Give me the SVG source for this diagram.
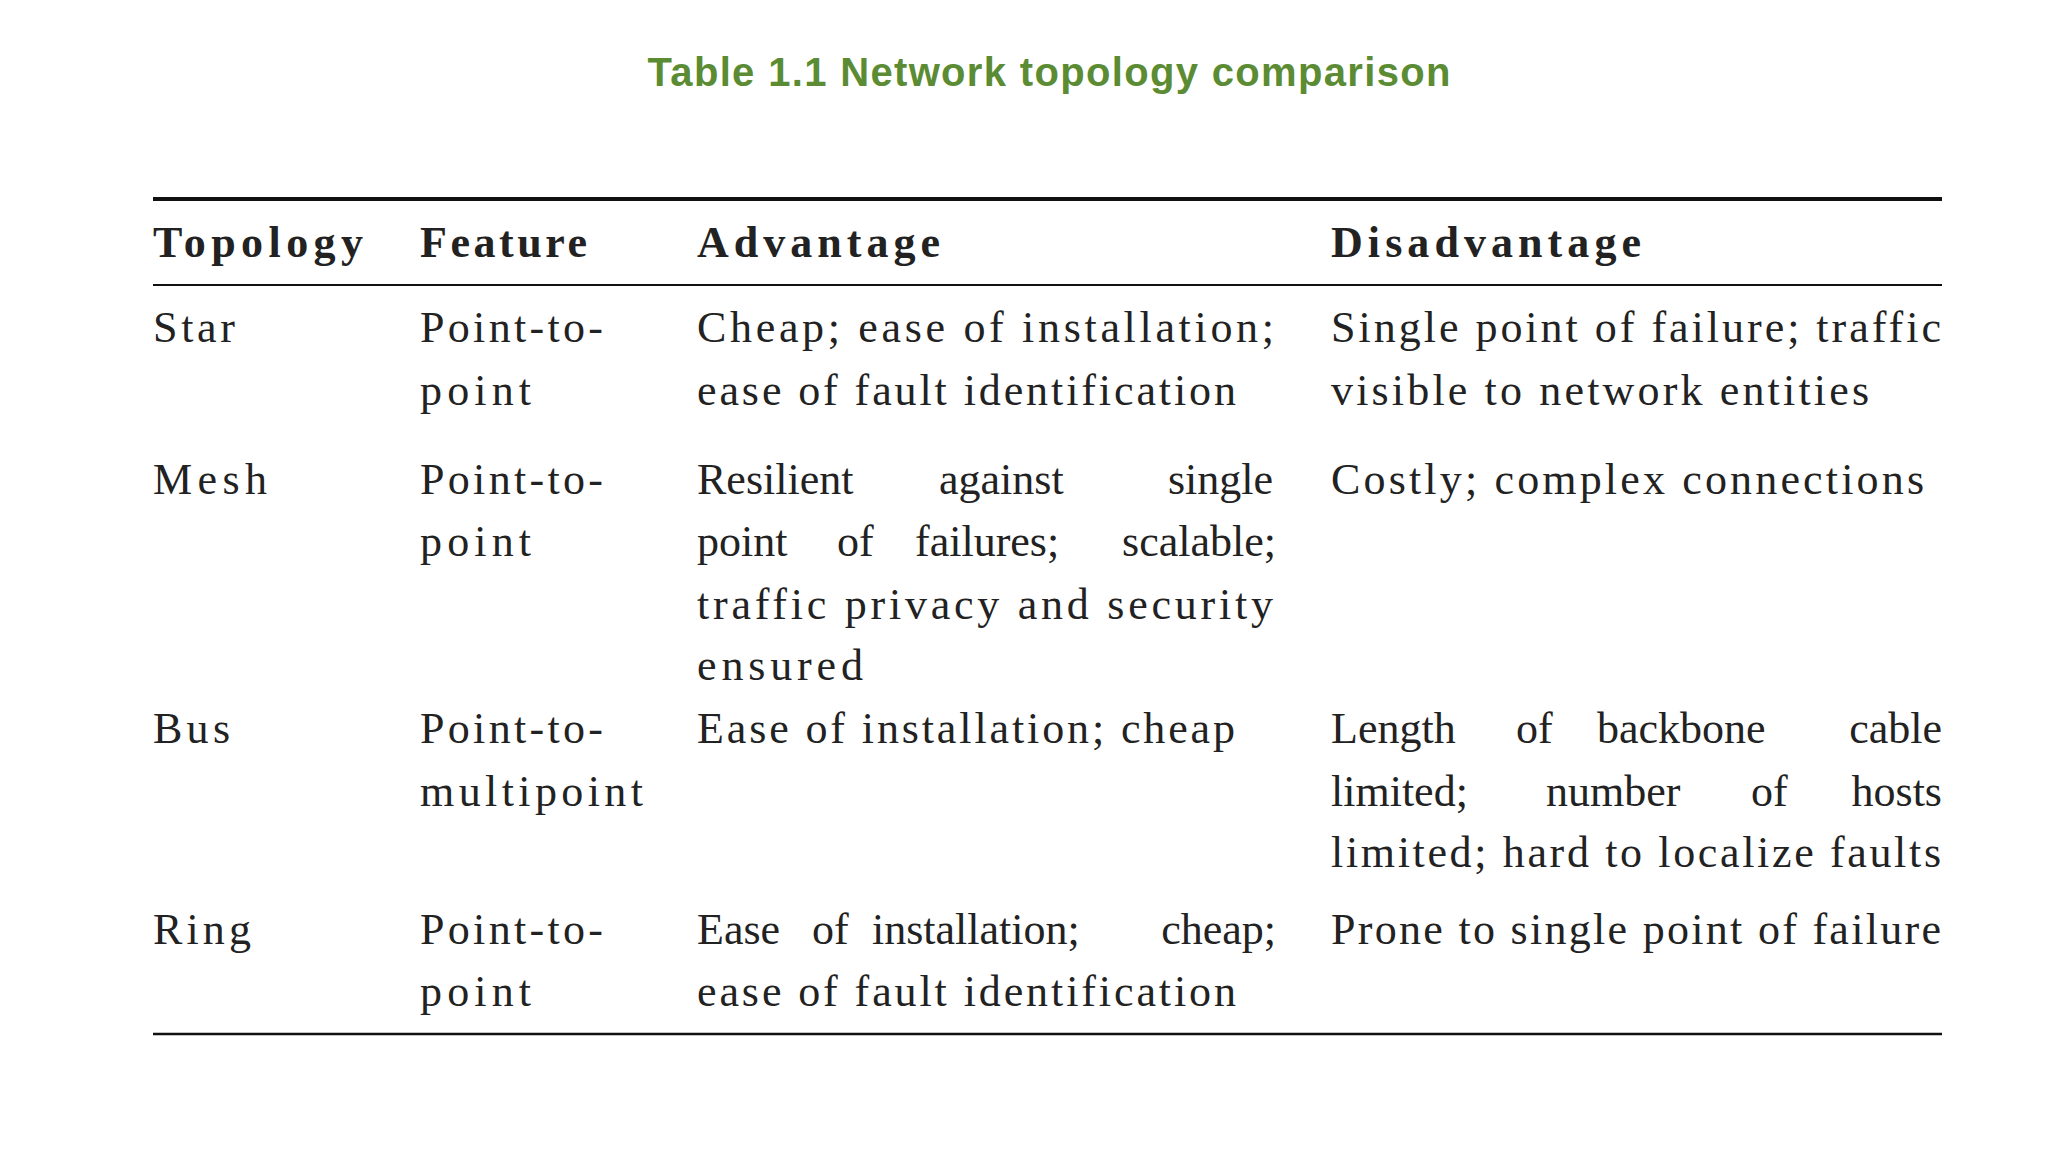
<svg xmlns="http://www.w3.org/2000/svg" width="2048" height="1152" viewBox="0 0 2048 1152">
<style>
.t{font-family:"Liberation Serif","Times New Roman",serif;font-size:44px;fill:#222}
.h{font-weight:bold}
.ttl{font-family:"Liberation Sans",Arial,sans-serif;font-size:40px;font-weight:bold;fill:#5b8c34}
</style>
<rect width="2048" height="1152" fill="#fff"/>
<text id="title" class="ttl" x="1049" y="86" text-anchor="middle" textLength="803">Table 1.1 Network topology comparison</text>
<g id="rules" stroke="#111">
<line x1="153" y1="199" x2="1942" y2="199" stroke-width="4"/>
<line x1="153" y1="285" x2="1942" y2="285" stroke-width="2"/>
<line x1="153" y1="1034" x2="1942" y2="1034" stroke-width="2.5"/>
</g>
<g id="header" class="t h">
<text x="153" y="257" textLength="210">Topology</text>
<text x="420" y="257" textLength="167">Feature</text>
<text x="697" y="257" textLength="243">Advantage</text>
<text x="1331" y="257" textLength="310">Disadvantage</text>
</g>
<g id="star" class="t">
<text x="153" y="342" textLength="82">Star</text>
<text x="420" y="342" textLength="183">Point-to-</text>
<text x="420" y="405" textLength="111">point</text>
<text x="697" y="342" textLength="577">Cheap; ease of installation;</text>
<text x="697" y="405" textLength="539">ease of fault identification</text>
<text x="1331" y="342" textLength="610">Single point of failure; traffic</text>
<text x="1331" y="405" textLength="538">visible to network entities</text>
</g>
<g id="mesh" class="t">
<text x="153" y="494" textLength="114">Mesh</text>
<text x="420" y="494" textLength="183">Point-to-</text>
<text x="420" y="556" textLength="111">point</text>
<text x="697" y="494">Resilient</text>
<text x="939" y="494">against</text>
<text x="1273" y="494" text-anchor="end">single</text>
<text x="697" y="556">point</text>
<text x="837" y="556">of</text>
<text x="915" y="556">failures;</text>
<text x="1276" y="556" text-anchor="end">scalable;</text>
<text x="697" y="619" textLength="576">traffic privacy and security</text>
<text x="697" y="680" textLength="166">ensured</text>
<text x="1331" y="494" textLength="593">Costly; complex connections</text>
</g>
<g id="bus" class="t">
<text x="153" y="743" textLength="77">Bus</text>
<text x="420" y="743" textLength="183">Point-to-</text>
<text x="420" y="806" textLength="223">multipoint</text>
<text x="697" y="743" textLength="538">Ease of installation; cheap</text>
<text x="1331" y="743">Length</text>
<text x="1516" y="743">of</text>
<text x="1597" y="743">backbone</text>
<text x="1942" y="743" text-anchor="end">cable</text>
<text x="1331" y="806">limited;</text>
<text x="1546" y="806">number</text>
<text x="1751" y="806">of</text>
<text x="1942" y="806" text-anchor="end">hosts</text>
<text x="1331" y="867" textLength="610">limited; hard to localize faults</text>
</g>
<g id="ring" class="t">
<text x="153" y="944" textLength="98">Ring</text>
<text x="420" y="944" textLength="183">Point-to-</text>
<text x="420" y="1006" textLength="111">point</text>
<text x="697" y="944">Ease</text>
<text x="812" y="944">of</text>
<text x="872" y="944">installation;</text>
<text x="1276" y="944" text-anchor="end">cheap;</text>
<text x="697" y="1006" textLength="539">ease of fault identification</text>
<text x="1331" y="944" textLength="610">Prone to single point of failure</text>
</g>
</svg>
